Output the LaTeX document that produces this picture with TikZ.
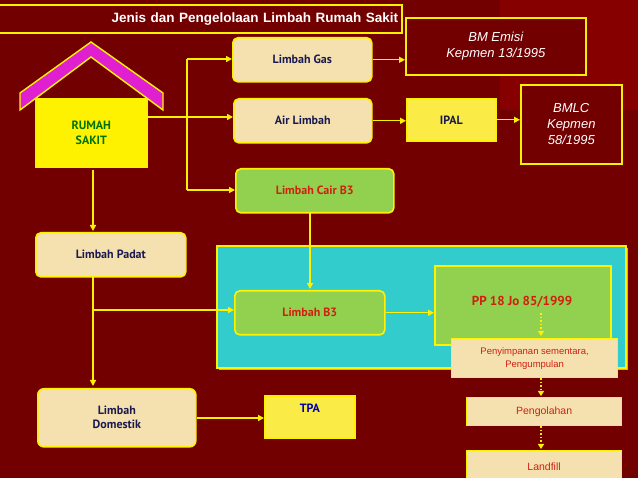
\documentclass[tikz,border=0pt]{standalone}
\usepackage{fontspec}
\setmainfont{Liberation Sans}
\newfontfamily\boxf{PT Sans}
\usetikzlibrary{arrows.meta}
\definecolor{bg}{HTML}{720000}
\definecolor{yl}{HTML}{FFF200}
\definecolor{cream}{HTML}{F5E1B0}
\definecolor{lgreen}{HTML}{92D050}
\definecolor{cyanb}{HTML}{33CCCC}
\definecolor{mag}{HTML}{E020D0}
\definecolor{rtext}{HTML}{D02010}
\definecolor{dblue}{HTML}{1A1A50}
\begin{document}
\begin{tikzpicture}[x=1pt,y=-1pt,
  bx/.style={draw=yl,line width=1.6pt,rounded corners=5pt,font=\boxf\bfseries\fontsize{12}{14}\selectfont,align=center,inner sep=0pt},
  sq/.style={draw=yl,line width=1.6pt,align=center,inner sep=0pt},
  arr/.style={draw=yl,line width=1.4pt,-{Triangle[length=6pt,width=6pt]}},
  dar/.style={draw=yl,line width=1.6pt,dotted,-{Triangle[length=5pt,width=6pt]}}]
\useasboundingbox (0,0) rectangle (638,478);
\clip (0,0) rectangle (638,478);
\fill[bg] (0,0) rectangle (638,478);
\fill[bg!85!red] (500,0) rectangle (638,110);
% title
\node[sq,fill=bg,text=white,font=\bfseries\fontsize{13.5}{15}\selectfont,anchor=north east,minimum height=28pt,text width=440pt,align=right,inner xsep=4pt] (title) at (403,4) {Jenis dan Pengelolaan Limbah Rumah Sakit};
\node[sq,fill=bg,text=white,font=\itshape\fontsize{13}{16}\selectfont,minimum width=180pt,minimum height=57pt,anchor=north west] (bme) at (405,17) {BM Emisi\\Kepmen 13/1995};
% house
\fill[mag,draw=yl,line width=1.4pt] (20,93) -- (91,42) -- (163,93) -- (163,110) -- (91,57) -- (20,110) -- cycle;
\node[sq,fill=yl,text=green!45!black,font=\boxf\bfseries\fontsize{12}{15}\selectfont,minimum width=111pt,minimum height=68pt,anchor=north west] (rs) at (35,98) {RUMAH\\SAKIT};
% right boxes
\node[bx,fill=cream,text=dblue,minimum width=139pt,minimum height=44pt,anchor=north west] (gas) at (232,37) {Limbah Gas};
\node[bx,fill=cream,text=dblue,minimum width=138pt,minimum height=44pt,anchor=north west] (air) at (233,98) {Air Limbah};
\node[bx,fill=lgreen,text=rtext,minimum width=158pt,minimum height=44pt,anchor=north west] (cair) at (235,168) {Limbah Cair B3};
\node[sq,fill=yl!60!cream,text=dblue,font=\boxf\bfseries\fontsize{12}{14}\selectfont,minimum width=89pt,minimum height=42pt,anchor=north west] (ipal) at (406,98) {IPAL};
\node[sq,fill=bg,text=white,font=\itshape\fontsize{13}{16}\selectfont,minimum width=101pt,minimum height=79pt,anchor=north west] (bmlc) at (520,84) {BMLC\\Kepmen\\58/1995};
% connectors top
\coordinate (j) at (187,117);
\draw[yl,line width=1.4pt] (rs.east|-j) -- (j);
\draw[yl,line width=1.4pt] (187,59) -- (187,190);
\draw[arr] (187,59) -- (gas.west|-187,59);
\draw[arr] (j) -- (air.west|-j);
\draw[arr] (187,190) -- (cair.west|-187,190);
\draw[arr] (gas.east) -- (bme.west|-gas.east);
\draw[arr] (air.east) -- (ipal.west|-air.east);
\draw[arr] (ipal.east) -- (bmlc.west|-ipal.east);
% padat
\node[bx,fill=cream,text=dblue,minimum width=150pt,minimum height=44pt,anchor=north west] (padat) at (35,232) {Limbah Padat};
\draw[arr] (93,170) -- (93,231);
% cyan
\fill[lgreen] (219,248) rectangle (628,370);
\node[sq,fill=cyanb,minimum width=409pt,minimum height=122pt,anchor=north west] (cyan) at (216,245) {};
\node[bx,fill=lgreen,text=rtext,minimum width=150pt,minimum height=44pt,anchor=north west] (b3) at (234,290) {Limbah B3};
\node[sq,fill=lgreen,minimum width=176pt,minimum height=79pt,anchor=north west] (pp) at (434,265) {};
\node[text=rtext,font=\boxf\bfseries\fontsize{13}{15}\selectfont] (ppt) at (522,302) {PP 18 Jo 85/1999};
\node[sq,fill=cream,text=rtext,font=\fontsize{9.5}{13}\selectfont,minimum width=166pt,minimum height=39pt,anchor=north west,line width=1.2pt] (peny) at (451,338) {Penyimpanan sementara,\\Pengumpulan};
\node[sq,fill=cream,text=rtext,font=\fontsize{10.5}{13}\selectfont,minimum width=155pt,minimum height=28pt,anchor=north west,line width=1.2pt] (olah) at (466,397) {Pengolahan};
\node[sq,fill=cream,text=rtext,font=\fontsize{10.5}{13}\selectfont,minimum width=155pt,minimum height=32pt,anchor=north west,line width=1.2pt] (land) at (466,450) {Landfill};
\node[bx,rounded corners=6pt,fill=cream,text=dblue,minimum width=158pt,minimum height=58pt,anchor=north west] (dom) at (37,388) {Limbah\\Domestik};
\node[sq,fill=yl!60!cream,text=blue!70!black,font=\boxf\bfseries\fontsize{12}{14}\selectfont,minimum width=90pt,minimum height=42pt,anchor=north west,text depth=18pt] (tpa) at (264,395) {TPA};
% lower connectors
\draw[arr] (93,277) -- (93,386);
\draw[arr] (93,310) -- (b3.west|-93,310);
\draw[arr] (310,212) -- (310,289);
\draw[arr] (b3.east) -- (pp.west|-b3.east);
\draw[arr] (dom.east|-0,418) -- (tpa.west|-0,418);
\draw[dar] (541,313) -- (541,336);
\draw[dar] (541,378) -- (541,396);
\draw[dar] (541,426) -- (541,449);
\end{tikzpicture}
\end{document}
